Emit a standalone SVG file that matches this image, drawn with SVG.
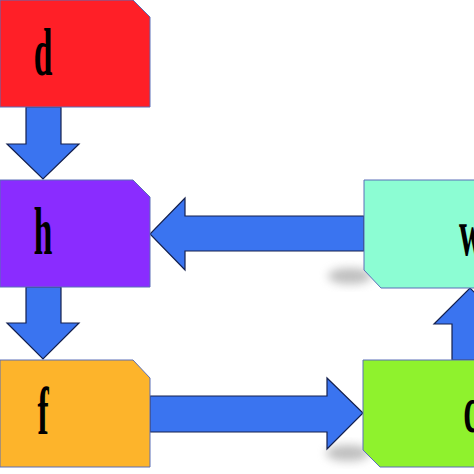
<svg xmlns="http://www.w3.org/2000/svg" width="474" height="474" viewBox="0 0 474 474">
<defs>
<style>
.node{stroke:#5a6fb8;stroke-width:1}
.arrow{fill:#3a74f0;stroke:#14204e;stroke-width:1.2;stroke-linejoin:miter}
.lbl{font-family:"Liberation Serif","Times New Roman",serif;font-size:67px;font-weight:bold;fill:#000;text-anchor:middle}
.shadow{fill:#8a8a8a;opacity:0.55;filter:url(#blur)}
</style>
<filter id="blur" x="-50%" y="-50%" width="200%" height="200%"><feGaussianBlur stdDeviation="5"/></filter>
</defs>
<rect width="474" height="474" fill="#fff"/>
<ellipse class="shadow" cx="350" cy="276" rx="22" ry="8"/>
<ellipse class="shadow" cx="348" cy="453" rx="22" ry="8"/>
<g id="connectors">
<polygon class="arrow" points="26,107 61,107 61,144 79,144 43,179 7,144 26,144"/>
<polygon class="arrow" points="26,287 61,287 61,323 79,323 43,359 7,323 26,323"/>
<polygon class="arrow" points="150,396 327,396 327,378 363,413 327,449 327,432 150,432"/>
<polygon class="arrow" points="364,216 185,216 185,198 150,234 185,270 185,251 364,251"/>
<polygon class="arrow" points="452,360 452,324 434,324 470,288 506,324 488,324 488,360"/>
</g>
<g id="node-d">
<polygon class="node" fill="#ff1f27" points="0,0 133,0 150,17 150,107 0,107"/>
<text class="lbl" transform="translate(43,75) scale(0.5,1)">d</text>
</g>
<g id="node-h">
<polygon class="node" fill="#8a2cff" points="0,180 133,180 150,197 150,287 0,287"/>
<text class="lbl" transform="translate(43,254) scale(0.5,1)">h</text>
</g>
<g id="node-f">
<polygon class="node" fill="#fdb42b" points="0,360 133,360 150,378 150,467 0,467"/>
<text class="lbl" transform="translate(43,434) scale(0.5,1)">f</text>
</g>
<g id="node-w">
<polygon class="node" fill="#8cfdd3" points="364,180 480,180 480,288 381,288 364,270"/>
<text class="lbl" transform="translate(471,255) scale(0.5,1)">w</text>
</g>
<g id="node-c">
<polygon class="node" fill="#8ff22d" points="363,360 480,360 480,467 380,467 363,450"/>
<text class="lbl" transform="translate(471,432) scale(0.5,1)">c</text>
</g>
</svg>
